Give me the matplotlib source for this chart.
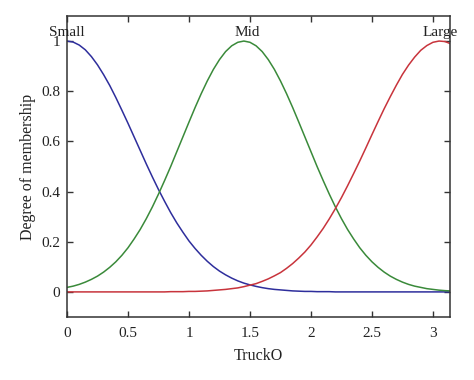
import matplotlib
matplotlib.use("Agg")
import matplotlib.pyplot as plt

x = [round(i * 0.05, 2) for i in range(63)] + [3.14]

small = [1.000, 0.996, 0.984, 0.965, 0.938, 0.905, 0.866, 0.823, 0.775, 0.724,
         0.672, 0.618, 0.564, 0.510, 0.458, 0.408, 0.361, 0.316, 0.275, 0.238,
         0.203, 0.173, 0.146, 0.122, 0.101, 0.083, 0.068, 0.055, 0.044, 0.035,
         0.028, 0.022, 0.017, 0.013, 0.010, 0.008, 0.006, 0.004, 0.003, 0.002,
         0.002, 0.001, 0.001, 0.001, 0.000, 0.000, 0.000, 0.000, 0.000, 0.000,
         0.000, 0.000, 0.000, 0.000, 0.000, 0.000, 0.000, 0.000, 0.000, 0.000,
         0.000, 0.000, 0.000, 0.000]

mid = [0.018, 0.023, 0.030, 0.039, 0.050, 0.063, 0.079, 0.098, 0.120, 0.146,
       0.176, 0.211, 0.249, 0.292, 0.339, 0.390, 0.444, 0.500, 0.559, 0.618,
       0.677, 0.735, 0.790, 0.841, 0.887, 0.926, 0.958, 0.981, 0.995, 1.000,
       0.995, 0.981, 0.958, 0.926, 0.887, 0.841, 0.790, 0.735, 0.677, 0.618,
       0.559, 0.500, 0.444, 0.390, 0.339, 0.292, 0.249, 0.211, 0.176, 0.146,
       0.120, 0.098, 0.079, 0.063, 0.050, 0.039, 0.030, 0.023, 0.018, 0.013,
       0.010, 0.007, 0.005, 0.004]

large = [0.000, 0.000, 0.000, 0.000, 0.000, 0.000, 0.000, 0.000, 0.000, 0.000,
         0.000, 0.000, 0.000, 0.000, 0.000, 0.000, 0.000, 0.001, 0.001, 0.001,
         0.002, 0.002, 0.003, 0.004, 0.006, 0.008, 0.010, 0.013, 0.016, 0.021,
         0.027, 0.033, 0.042, 0.052, 0.064, 0.077, 0.094, 0.113, 0.135, 0.159,
         0.187, 0.219, 0.253, 0.291, 0.332, 0.376, 0.423, 0.472, 0.522, 0.574,
         0.627, 0.679, 0.730, 0.778, 0.824, 0.867, 0.904, 0.936, 0.963, 0.982,
         0.995, 1.000, 0.998, 0.990]

set_names = ["Small", "Mid", "Large"]
name_x = [0.0, 1.48, 3.06]
xticks = [0, 0.5, 1, 1.5, 2, 2.5, 3]
xtick_labels = ["0", "0.5", "1", "1.5", "2", "2.5", "3"]
yticks = [0, 0.2, 0.4, 0.6, 0.8, 1]
ytick_labels = ["0", "0.2", "0.4", "0.6", "0.8", "1"]

plt.rcParams["font.family"] = ["Liberation Serif", "DejaVu Serif"]

fig = plt.figure(figsize=(4.74, 3.80), dpi=100)
ax = fig.add_axes([0.1414, 0.1658, 0.808, 0.7922])

ax.plot(x, small, color="#2e2e9c", lw=1.1)
ax.plot(x, mid, color="#3a8a3a", lw=1.1)
ax.plot(x, large, color="#c8343c", lw=1.1)

for name, nx in zip(set_names, name_x):
    ax.text(nx, 1.01, name, ha="center", va="bottom", fontsize=11, color="#222222")

ax.set_xlim(0, 3.14)
ax.set_ylim(-0.1, 1.1)
ax.set_xticks(xticks)
ax.set_xticklabels(xtick_labels)
ax.set_yticks(yticks)
ax.set_yticklabels(ytick_labels)
ax.tick_params(direction="in", length=4, width=1, top=True, right=True,
               labelsize=11, colors="#333333", labelcolor="#222222")
ax.tick_params(axis="x", pad=7)
ax.tick_params(axis="y", pad=5)
for s in ax.spines.values():
    s.set_color("#333333")
    s.set_linewidth(1.1)

ax.set_xlabel("TruckO", fontsize=11.5, color="#222222", labelpad=6)
ax.set_ylabel("Degree of membership", fontsize=11.5, color="#222222", labelpad=4)

fig.savefig("out.png", dpi=100)
